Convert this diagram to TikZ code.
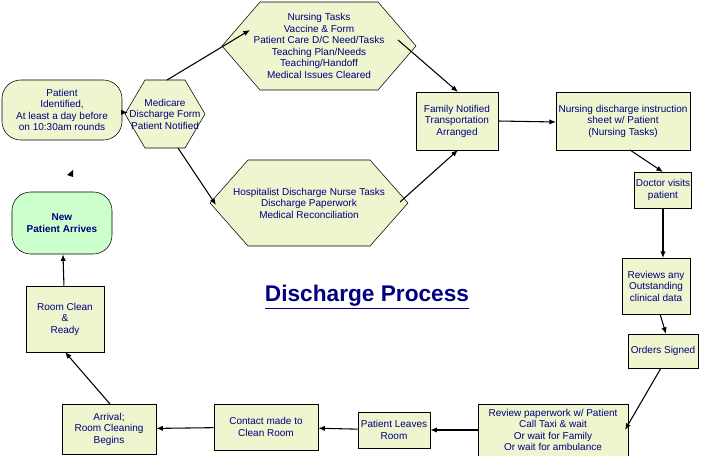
\documentclass[tikz,border=0pt]{standalone}
\usepackage{fontspec}
\setmainfont{Liberation Sans}
\usetikzlibrary{arrows.meta}
\definecolor{fillc}{HTML}{EEF5CF}
\definecolor{greenc}{HTML}{CCFFCC}
\definecolor{txt}{HTML}{000080}
\begin{document}
\begin{tikzpicture}[x=0.75pt,y=-0.75pt,
  box/.style={draw,fill=fillc,align=center,font=\fontsize{7.5}{8.6}\selectfont,text=txt,inner sep=1pt},
  lbl/.style={align=center,font=\fontsize{7.5}{8.6}\selectfont,text=txt,inner sep=1pt},
  hex/.style={draw,fill=fillc},
  arr/.style={-{Latex[length=5pt,width=4pt]},line width=0.8pt}]
\useasboundingbox (0,0) rectangle (710,456);
% hexagons
\draw[hex] (125,114)--(145,80)--(185,80)--(205,114)--(185,148)--(145,148)--cycle;
\node[lbl] (med) at (165,114) {Medicare\\Discharge Form\\Patient Notified};
\draw[hex] (222,46)--(260,2)--(378,2)--(416,46)--(378,90)--(260,90)--cycle;
\node[lbl] (nt) at (319,46) {Nursing Tasks\\Vaccine \& Form\\Patient Care D/C Need/Tasks\\Teaching Plan/Needs\\Teaching/Handoff\\Medical Issues Cleared};
\draw[hex] (210,203)--(248,160)--(370,160)--(408,203)--(370,246)--(248,246)--cycle;
\node[lbl] (hosp) at (309,203) {Hospitalist Discharge Nurse Tasks\\Discharge Paperwork\\Medical Reconciliation};
% boxes
\node[box,minimum width=120*0.75pt,minimum height=60*0.75pt,rounded corners=14pt] (pi) at (62,110) {Patient\\Identified,\\At least a day before\\on 10:30am rounds};
\node[box,minimum width=82*0.75pt,minimum height=58*0.75pt] (fam) at (457,121) {Family Notified\\Transportation\\Arranged};
\node[box,minimum width=134*0.75pt,minimum height=58*0.75pt] (nds) at (623,121) {Nursing discharge instruction\\sheet w/ Patient\\(Nursing Tasks)};
\node[box,minimum width=54*0.75pt,minimum height=36*0.75pt] (doc) at (663,190) {Doctor visits\\patient};
\node[box,minimum width=68*0.75pt,minimum height=56*0.75pt] (rev) at (656,286) {Reviews any\\Outstanding\\clinical data};
\node[box,minimum width=70*0.75pt,minimum height=34*0.75pt] (ord) at (663,351) {Orders Signed};
\node[box,minimum width=150*0.75pt,minimum height=52*0.75pt] (rp) at (553,430) {Review paperwork w/ Patient\\Call Taxi \& wait\\Or wait for Family\\Or wait for ambulance};
\node[box,minimum width=72*0.75pt,minimum height=36*0.75pt] (pl) at (394,430) {Patient Leaves\\Room};
\node[box,minimum width=104*0.75pt,minimum height=46*0.75pt] (cm) at (266,427) {Contact made to\\Clean Room};
\node[box,minimum width=94*0.75pt,minimum height=50*0.75pt] (arv) at (109,429) {Arrival;\\Room Cleaning\\Begins};
\node[box,minimum width=78*0.75pt,minimum height=66*0.75pt] (rc) at (65,319) {Room Clean\\\&\\Ready};
\node[box,fill=greenc,minimum width=100*0.75pt,minimum height=62*0.75pt,rounded corners=14pt,font=\fontsize{7.5}{8.6}\selectfont\bfseries] (np) at (62,223) {New\\Patient Arrives};
\node[font=\fontsize{17}{20}\selectfont\bfseries,text=txt] (title) at (367,297) {\underline{Discharge Process}};
\fill (67,175)--(73,170)--(73,177)--cycle;
% arrows
\draw[arr] (pi) -- (med);
\draw[arr] (167,80) -- (250,30);
\draw[arr] (178,148) -- (216,205);
\draw[arr] (398,40) -- (458,92);
\draw[arr] (400,202) -- (458,150);
\draw[arr] (fam.east) -- (556,122);
\draw[arr] (630,150) -- (663,172);
\draw[arr] (doc) -- (663,258);
\draw[arr] (660,314) -- (666,334);
\draw[arr] (661,368) -- (625,430);
\draw[arr] (rp) -- (pl);
\draw[arr] (pl) -- (cm);
\draw[arr] (cm) -- (arv);
\draw[arr] (110,404) -- (65,352);
\draw[arr] (rc) -- (np);
\end{tikzpicture}
\end{document}
